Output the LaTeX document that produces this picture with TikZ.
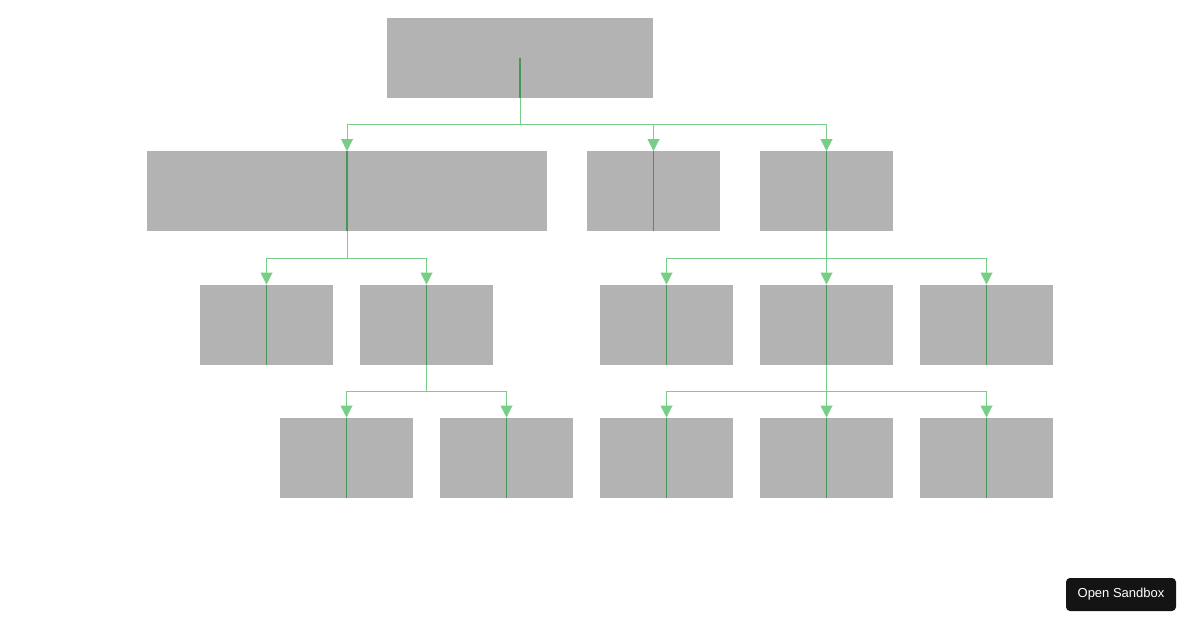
\documentclass[tikz,border=0pt]{standalone}
\usepackage{fontspec}
\setmainfont{Liberation Sans}
\usetikzlibrary{arrows.meta}
\definecolor{boxgray}{RGB}{179,179,179}
\definecolor{edgegreen}{RGB}{120,205,135}
\definecolor{edgedark}{RGB}{70,150,90}
\begin{document}
\begin{tikzpicture}[x=1pt,y=-1pt,
	box/.style={fill=boxgray,minimum width=133pt,minimum height=80pt,inner sep=0pt,outer sep=0pt},
	edge/.style={edgegreen,line width=1pt,-{Triangle[width=12pt,length=12pt]}},
	inside/.style={edgedark,line width=1.1pt}]
	\useasboundingbox (0,0) rectangle (1200,630);
	% root and first row
	\node[box,minimum width=266pt] (R) at (520,58) {};
	\node[box,minimum width=400pt] (A) at (347,191) {};
	\node[box] (B) at (653.5,191) {};
	\node[box] (C) at (826.5,191) {};
	% second row
	\node[box] (A1) at (266.5,324.5) {};
	\node[box] (A2) at (426.5,324.5) {};
	\node[box] (C1) at (666.5,324.5) {};
	\node[box] (C2) at (826.5,324.5) {};
	\node[box] (C3) at (986.5,324.5) {};
	% third row
	\node[box] (A21) at (346.5,457.5) {};
	\node[box] (A22) at (506.5,457.5) {};
	\node[box] (C21) at (666.5,457.5) {};
	\node[box] (C22) at (826.5,457.5) {};
	\node[box] (C23) at (986.5,457.5) {};
	% connectors
	\draw[inside] (R.center) -- (R.south);
	\foreach \p/\c/\y in {R/A/124,R/B/124,R/C/124,A/A1/258,A/A2/258,C/C1/258,C/C2/258,C/C3/258,
		A2/A21/391,A2/A22/391,C2/C21/391,C2/C22/391,C2/C23/391}{
		\draw[edge] (\p.south) -- (\p.south |- 0,\y) -| (\c.north);
		\draw[inside] (\c.north) -- (\c.south);
	}
	% button
	\node[fill={rgb,255:red,20;green,20;blue,20},rounded corners=4pt,text=white,
		minimum width=110pt,minimum height=33pt,inner sep=0pt,
		font=\fontsize{13}{15}\selectfont] (sandbox) at (1121,594.5) {Open Sandbox};
\end{tikzpicture}
\end{document}
